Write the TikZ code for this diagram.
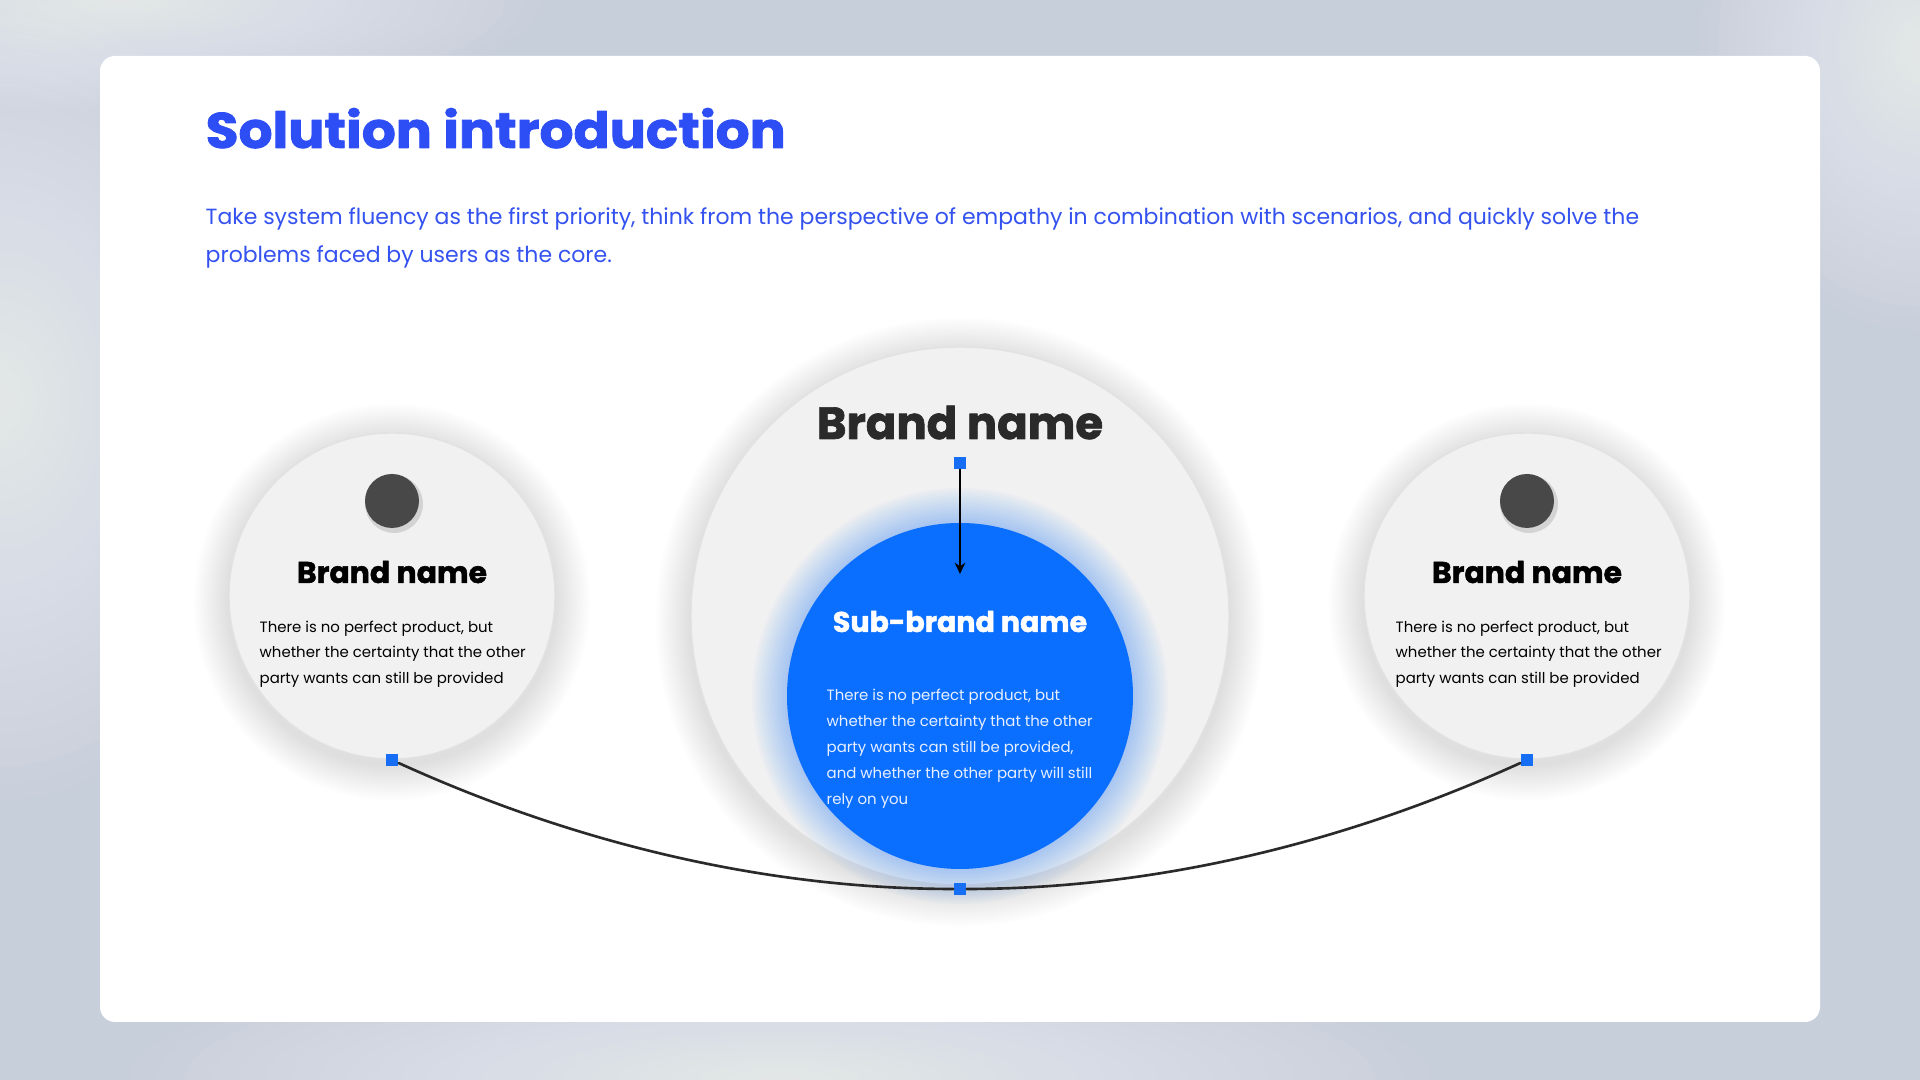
\documentclass[tikz,border=0pt]{standalone}
\usepackage{fontspec}
\setmainfont{Poppins}[BoldFeatures={FakeBold=1.6}]
\usepackage{xcolor}
\usepackage{tikz}
\usetikzlibrary{arrows.meta,calc}
\definecolor{bgbase}{RGB}{199,207,218}
\definecolor{titleblue}{RGB}{46,78,245}
\definecolor{leadblue}{RGB}{52,82,240}
\definecolor{discgray}{RGB}{241,241,241}
\definecolor{rimgray}{RGB}{226,226,226}
\definecolor{dotgray}{RGB}{72,72,72}
\definecolor{corblue}{RGB}{10,110,255}
\definecolor{pinblue}{RGB}{22,110,245}
\definecolor{inkgray}{RGB}{42,42,42}
\definecolor{paleblue}{RGB}{232,240,255}
\tikzset{
  >=Stealth,
  every picture/.style={line cap=round,line join=round},
  disc/.style={fill=discgray,draw=rimgray,line width=0.4pt},
  pin/.style={rectangle,fill=pinblue,minimum size=0.12cm,inner sep=0pt},
  brand/.style={anchor=base,inner sep=0pt,text=black,font=\bfseries\fontsize{8.5}{10}\selectfont},
  blurb/.style={anchor=north west,align=left,inner sep=0pt,font=\fontsize{4.25}{7.26}\selectfont},
}

\begin{document}
\begin{tikzpicture}[x=0.01cm,y=0.01cm]
    \useasboundingbox (0,0) rectangle (1920,1080);
    % 背景
    \fill[bgbase] (0,0) rectangle (1920,1080);
    \foreach \cx/\cy/\rx/\ry in {0/680/280/400, 780/0/650/130, 120/1080/420/110, 1920/1030/220/280}{%
      \foreach \k in {1,...,24}{%
        \fill[white,opacity=0.04] (\cx,\cy) ellipse ({\rx*\k/24} and {\ry*\k/24});
      }
    }
    % カード
    \fill[white,rounded corners=0.15cm] (100,58) rectangle (1820,1024);
    % 見出し
    \node[anchor=base west,inner sep=0pt,text=titleblue,font=\bfseries\fontsize{14.2}{17}\selectfont] (title) at (205,932)
      {\scalebox{1.07}[1]{Solution introduction}};
    \node[anchor=north west,align=left,inner sep=0pt,text=leadblue,font=\fontsize{6.25}{10.8}\selectfont] (lead) at (205,873)
      {Take system fluency as the first priority, think from the perspective of empathy in combination with scenarios, and quickly solve the\\problems faced by users as the core.};
    % 円の影
    \foreach \cx/\cy/\r in {392/484/163, 1527/484/163, 960/464/269}{%
      \foreach \k in {1,...,16}{%
        \fill[black,opacity=0.007] (\cx,\cy-6) circle ({\r+2.2*\k});
      }
    }
    % 円
    \draw[disc] (392,484) circle (163);
    \draw[disc] (1527,484) circle (163);
    \draw[disc] (960,464) circle (269);
    % 青い円(光彩)
    \foreach \k in {1,...,14}{%
      \fill[corblue,opacity=0.025] (960,384) circle ({173+2.5*\k});
    }
    \fill[corblue] (960,384) circle (173);
    % ドット
    \foreach \cx in {392,1527}{%
      \fill[black,opacity=0.12] (\cx+2,576) circle (29);
      \fill[dotgray] (\cx,579) circle (27);
    }
    % テキスト
    \node[brand] (lname) at (392,497) {Brand name};
    \node[brand] (rname) at (1527,497) {Brand name};
    \node[brand,text=inkgray,font=\bfseries\fontsize{12.8}{14}\selectfont] (cname) at (960,641) {Brand name};
    \node[brand,text=white,font=\bfseries\fontsize{8.1}{10}\selectfont] (sname) at (960,448) {Sub-brand name};
    \node[blurb] (ltext) at (259,460) {There is no perfect product, but\\whether the certainty that the other\\party wants can still be provided};
    \node[blurb] (rtext) at (1395,460) {There is no perfect product, but\\whether the certainty that the other\\party wants can still be provided};
    \node[blurb,text=paleblue,font=\fontsize{4.25}{7.4}\selectfont] (stext) at (826,392)
      {There is no perfect product, but\\whether the certainty that the other\\party wants can still be provided,\\and whether the other party will still\\rely on you};
    % ピン
    \node[pin] (tpin) at (960,617) {};
    \node[pin] (lpin) at (392,320) {};
    \node[pin] (rpin) at (1527,320) {};
    \node[pin] (bpin) at (960,191) {};
    \coordinate (tip) at (960,506);
    % 矢印と曲線
    \draw[-{Stealth[length=3.2pt,width=3pt]},line width=0.75pt,black] (tpin) -- (tip);
    \draw[line width=0.75pt,inkgray] (lpin) .. controls (581,234) and (771,191) .. (bpin)
      .. controls (1149,191) and (1338,234) .. (rpin);
\end{tikzpicture}
\end{document}
